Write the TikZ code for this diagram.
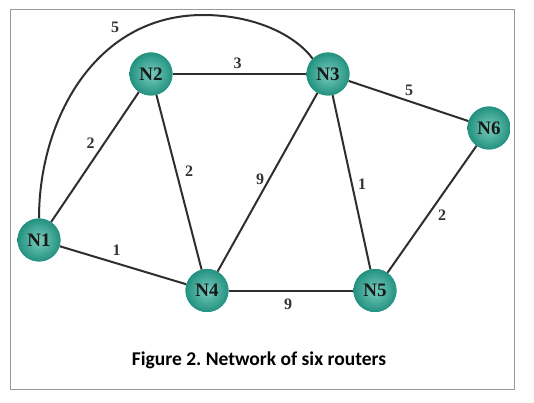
\documentclass[tikz,border=0pt]{standalone}
\usepackage{fontspec}
\setmainfont{Liberation Serif}
\newfontfamily\capfont{Carlito}
\definecolor{ballin}{RGB}{120,205,190}
\definecolor{ballout}{RGB}{35,145,128}
\frenchspacing
\begin{document}
\begin{tikzpicture}[x=1pt,y=-1pt,
  router/.style={circle,minimum size=43pt,inner sep=0pt,
    inner color=ballin,outer color=ballout,
    font=\fontsize{19}{19}\selectfont\bfseries,text=black!90},
  link/.style={line width=2pt,draw=black!82},
  wt/.style={font=\fontsize{16}{16}\selectfont\bfseries,text=black!80,inner sep=0pt}]
\useasboundingbox (0,0) rectangle (534,403);
\draw[draw=black!40,line width=1pt] (10.5,9.5) rectangle (514.5,389);
\node[router] (N1) at (39,240) {N1};
\node[router] (N2) at (151,74) {N2};
\node[router] (N3) at (328,74) {N3};
\node[router] (N4) at (207,290.5) {N4};
\node[router] (N5) at (375,290.5) {N5};
\node[router] (N6) at (489,128) {N6};
\coordinate (apex) at (203,15);
\draw[link] (N1.north) .. controls (39,120) and (95,15) .. (apex)
  .. controls (255,15) and (295,35) .. (N3.135);
\draw[link] (N2) -- (N3);
\draw[link] (N3) -- (N6);
\draw[link] (N1) -- (N2);
\draw[link] (N2) -- (N4);
\draw[link] (N3) -- (N4);
\draw[link] (N3) -- (N5);
\draw[link] (N6) -- (N5);
\draw[link] (N1) -- (N4);
\draw[link] (N4) -- (N5);
\node[router] at (N1) {N1};
\node[router] at (N2) {N2};
\node[router] at (N3) {N3};
\node[router] at (N4) {N4};
\node[router] at (N5) {N5};
\node[router] at (N6) {N6};
\node[wt] (w13) at (115,27) {5};
\node[wt] (w23) at (237.5,63) {3};
\node[wt] (w36) at (409,90) {5};
\node[wt] (w12) at (90.5,143) {2};
\node[wt] (w24) at (189,171) {2};
\node[wt] (w34) at (260,179) {9};
\node[wt] (w35) at (362,184) {1};
\node[wt] (w56) at (442,215) {2};
\node[wt] (w14) at (116.5,250) {1};
\node[wt] (w45) at (288,304) {9};
\node[anchor=base,font=\capfont\fontsize{19.5}{19.5}\selectfont\bfseries,inner sep=0pt] (cap) at (259,365) {Figure 2. Network of six routers};
\end{tikzpicture}
\end{document}
